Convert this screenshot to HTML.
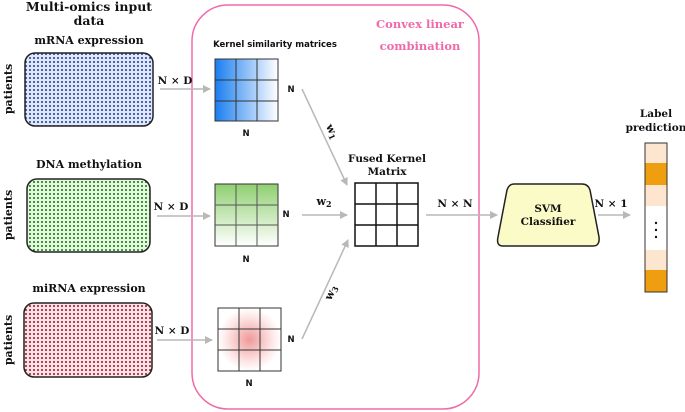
<!DOCTYPE html>
<html><head><meta charset="utf-8"><style>
html,body{margin:0;padding:0;background:#fff;width:685px;height:412px;overflow:hidden}
text{font-family:"DejaVu Serif","Liberation Serif",serif;font-weight:bold;fill:#111}
.s{font-family:"DejaVu Sans","Liberation Sans",sans-serif}
</style></head><body>
<svg width="685" height="412" viewBox="0 0 685 412" xmlns="http://www.w3.org/2000/svg">
<defs>
<pattern id="pb" width="4" height="4" patternUnits="userSpaceOnUse"><rect width="4" height="4" fill="#dfe8fb"/><circle cx="2" cy="2" r="1" fill="#1a3a9a"/></pattern>
<pattern id="pg" width="4" height="4" patternUnits="userSpaceOnUse"><rect width="4" height="4" fill="#e3f8dc"/><circle cx="2" cy="2" r="1" fill="#157015"/></pattern>
<pattern id="pr" width="4" height="4" patternUnits="userSpaceOnUse"><rect width="4" height="4" fill="#fbe3e6"/><circle cx="2" cy="2" r="1" fill="#a00c2a"/></pattern>
<linearGradient id="gb" x1="0" x2="1"><stop offset="0" stop-color="#1a7ef0"/><stop offset="1" stop-color="#fff"/></linearGradient>
<linearGradient id="gg" x1="0" x2="0" y1="0" y2="1"><stop offset="0" stop-color="#8fcf70"/><stop offset="1" stop-color="#fff"/></linearGradient>
<radialGradient id="gr"><stop offset="0" stop-color="#ef9a9a"/><stop offset="0.7" stop-color="#fde4e4"/><stop offset="1" stop-color="#fff"/></radialGradient>
<marker id="a" markerWidth="8" markerHeight="8" refX="7" refY="4" orient="auto" markerUnits="userSpaceOnUse"><path d="M0,0 L8,4 L0,8 z" fill="#b8b8b8"/></marker>
</defs>
<rect x="192" y="5" width="287" height="404" rx="36" fill="none" stroke="#f06aaa" stroke-width="1.5"/>
<text x="420" y="28" font-size="11.5" style="fill:#f06aaa" text-anchor="middle">Convex linear</text>
<text x="420" y="50" font-size="11.5" style="fill:#f06aaa" text-anchor="middle">combination</text>

<text x="89" y="11" font-size="12.5" text-anchor="middle">Multi-omics input</text>
<text x="89" y="25" font-size="12.5" text-anchor="middle">data</text>
<text x="89" y="44" font-size="11" text-anchor="middle">mRNA expression</text>
<text x="89" y="168" font-size="11" text-anchor="middle">DNA methylation</text>
<text x="89" y="292" font-size="11" text-anchor="middle">miRNA expression</text>

<rect x="25" y="53" width="128" height="73" rx="10" fill="url(#pb)" stroke="#222" stroke-width="1.5"/>
<rect x="27" y="179" width="123" height="73" rx="10" fill="url(#pg)" stroke="#222" stroke-width="1.5"/>
<rect x="24" y="303" width="128" height="74" rx="10" fill="url(#pr)" stroke="#222" stroke-width="1.5"/>
<text transform="translate(12,89) rotate(-90)" font-size="11" text-anchor="middle">patients</text>
<text transform="translate(12,215) rotate(-90)" font-size="11" text-anchor="middle">patients</text>
<text transform="translate(12,340) rotate(-90)" font-size="11" text-anchor="middle">patients</text>

<g stroke="#b8b8b8" stroke-width="1.5" fill="none" marker-end="url(#a)">
<line x1="160" y1="89" x2="210" y2="89"/>
<line x1="157" y1="216" x2="210" y2="216"/>
<line x1="157" y1="340" x2="212" y2="340"/>
<line x1="302" y1="89" x2="347" y2="185"/>
<line x1="302" y1="215" x2="347" y2="215"/>
<line x1="302" y1="339" x2="348" y2="240"/>
<line x1="426" y1="215" x2="497" y2="215"/>
<line x1="598" y1="215" x2="630" y2="215"/>
</g>
<text x="175" y="84" font-size="10.5" text-anchor="middle">N × D</text>
<text x="171" y="210" font-size="10.5" text-anchor="middle">N × D</text>
<text x="172" y="334" font-size="10.5" text-anchor="middle">N × D</text>

<text x="275" y="47" font-size="8.5" class="s" text-anchor="middle">Kernel similarity matrices</text>
<rect x="215" y="59" width="63" height="62" fill="url(#gb)" stroke="#333" stroke-width="1"/>
<path d="M236 59V121M257 59V121M215 80H278M215 101H278" stroke="#333"/>
<rect x="215" y="184" width="63" height="62" fill="url(#gg)" stroke="#333"/>
<path d="M236 184V246M257 184V246M215 205H278M215 225H278" stroke="#555"/>
<rect x="218" y="308" width="63" height="63" fill="url(#gr)" stroke="#333"/>
<path d="M239 308V371M260 308V371M218 329H281M218 350H281" stroke="#333"/>
<text x="291" y="92" class="s" font-size="8.5" text-anchor="middle">N</text>
<text x="246" y="136" class="s" font-size="8.5" text-anchor="middle">N</text>
<text x="286" y="217" class="s" font-size="8.5" text-anchor="middle">N</text>
<text x="246" y="262" class="s" font-size="8.5" text-anchor="middle">N</text>
<text x="291" y="342" class="s" font-size="8.5" text-anchor="middle">N</text>
<text x="249" y="386" class="s" font-size="8.5" text-anchor="middle">N</text>
<text transform="translate(329,133) rotate(64)" font-size="11" text-anchor="middle">w<tspan font-size="8" dy="2">1</tspan></text>
<text x="324" y="205" font-size="11" text-anchor="middle">w<tspan font-size="8" dy="2">2</tspan></text>
<text transform="translate(334,294) rotate(-65)" font-size="11" text-anchor="middle">w<tspan font-size="8" dy="2">3</tspan></text>

<text x="387" y="162" font-size="10.5" text-anchor="middle">Fused Kernel</text>
<text x="387" y="175" font-size="10.5" text-anchor="middle">Matrix</text>
<rect x="355" y="183" width="63" height="63" fill="#fff" stroke="#111" stroke-width="1.5"/>
<path d="M376 183V246M397 183V246M355 204H418M355 225H418" stroke="#111" stroke-width="1.5"/>
<text x="455" y="207" font-size="10.5" text-anchor="middle">N × N</text>

<path d="M514 184H582Q588 184 590 190L599 237Q600 246 593 246H503Q496 246 498 237L507 190Q509 184 514 184Z" fill="#fbfbc8" stroke="#222" stroke-width="1.5"/>
<text x="548" y="212" font-size="10.5" text-anchor="middle">SVM</text>
<text x="548" y="225" font-size="10.5" text-anchor="middle">Classifier</text>
<text x="611" y="207" font-size="10.5" text-anchor="middle">N × 1</text>

<text x="656" y="117" font-size="10.5" text-anchor="middle">Label</text>
<text x="656" y="131" font-size="10.5" text-anchor="middle">prediction</text>
<rect x="645" y="143" width="22" height="20" fill="#fde5cf"/>
<rect x="645" y="163" width="22" height="22" fill="#ef9e10"/>
<rect x="645" y="185" width="22" height="21" fill="#fde5cf"/>
<rect x="645" y="206" width="22" height="44" fill="#fff"/>
<rect x="645" y="250" width="22" height="20" fill="#fde5cf"/>
<rect x="645" y="270" width="22" height="22" fill="#ef9e10"/>
<rect x="645" y="143" width="22" height="149" fill="none" stroke="#333" stroke-width="1"/>
<circle cx="656" cy="223" r="1.2" fill="#111"/><circle cx="656" cy="230" r="1.2" fill="#111"/><circle cx="656" cy="237" r="1.2" fill="#111"/>
</svg>
</body></html>
